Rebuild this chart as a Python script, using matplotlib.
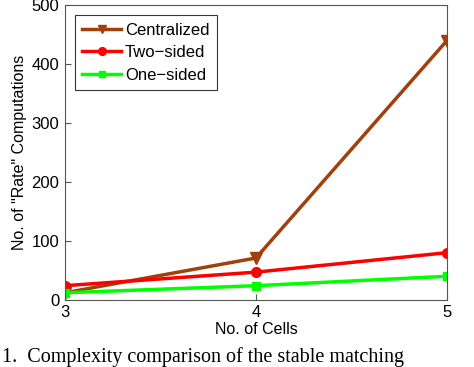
import matplotlib
matplotlib.use("Agg")
import matplotlib.pyplot as plt

plt.rcParams['font.family'] = ['Liberation Sans', 'DejaVu Sans']

cells = [3, 4, 5]
centralized = [12, 71, 440]
two_sided = [24, 47, 80]
one_sided = [12, 24, 40]

fig = plt.figure(figsize=(4.74, 3.67), dpi=100)
ax = fig.add_axes([0.137, 0.183, 0.806, 0.803])

ax.plot(cells, centralized, color='#a0400a', lw=2.5, marker='v', ms=8, label='Centralized')
ax.plot(cells, two_sided, color='#ff0000', lw=2.5, marker='o', ms=7, label='Two\u2212sided')
ax.plot(cells, one_sided, color='#00ff00', lw=2.5, marker='s', ms=6, label='One\u2212sided')

ax.set_xlim(3, 5)
ax.set_ylim(0, 500)
ax.set_xticks([3, 4, 5])
ax.set_yticks([0, 100, 200, 300, 400, 500])
ax.tick_params(direction='in', labelsize=12, length=4, color='#555555', pad=4)
for s in ax.spines.values():
    s.set_color('#555555')
ax.set_xlabel('No. of Cells', fontsize=11.5, labelpad=1)
ax.set_ylabel('No. of "Rate" Computations', fontsize=11.5, labelpad=3)

leg = ax.legend(loc='upper left', fontsize=12, fancybox=False, edgecolor='black',
                handlelength=2.3, handletextpad=0.25, borderpad=0.45,
                borderaxespad=0.6, labelspacing=0.45, markerscale=0.8)
leg.get_frame().set_linewidth(0.8)

fig.text(0.005, 5 / 367, '1.  Complexity comparison of the stable matching',
         family='Liberation Serif', fontsize=14.5, va='baseline', ha='left')

fig.savefig('out.png', dpi=100)
